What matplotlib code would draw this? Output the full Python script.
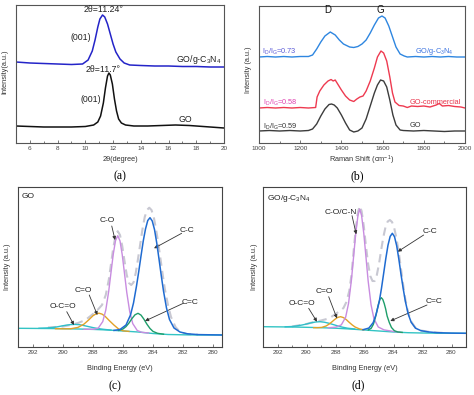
import matplotlib
matplotlib.use("Agg")
import matplotlib.pyplot as plt
from matplotlib.ticker import MultipleLocator

# ---------------- data ----------------
# (a) XRD
xrd_gcn_x = [5, 6, 7, 8, 9, 9.8, 10.2, 10.5, 10.7, 10.9, 11.05, 11.24, 11.4, 11.6, 11.8, 12.0, 12.2, 12.5, 12.8, 13.2, 14, 15, 16, 17, 18, 19, 20]
xrd_gcn_y = [81, 80, 79.5, 79, 78.5, 79, 83, 92, 103, 116, 124, 128, 126, 119, 109, 99, 91, 84, 80, 78, 77.5, 77, 77, 76.5, 76.5, 76, 76]
xrd_go_x = [5, 6, 7, 8, 9, 10, 10.6, 10.9, 11.1, 11.3, 11.45, 11.6, 11.7, 11.8, 11.95, 12.1, 12.25, 12.4, 12.6, 12.9, 13.5, 14.5, 15.5, 16.5, 17.5, 18.5, 19.5, 20]
xrd_go_y = [17, 16.5, 16, 16, 16, 16.5, 18, 21, 27, 40, 55, 67, 70, 68, 59, 44, 32, 24, 20, 18, 17, 17, 17.5, 18, 17.5, 16.5, 15.5, 15]

# (b) Raman
ram_gcn_x = [1000, 1040, 1080, 1120, 1160, 1200, 1240, 1260, 1280, 1300, 1320, 1346, 1370, 1390, 1410, 1440, 1460, 1480, 1500, 1520, 1540, 1560, 1580, 1597, 1612, 1630, 1650, 1665, 1685, 1705, 1720, 1760, 1800, 1840, 1880, 1920, 1960, 2000]
ram_gcn_y = [86, 86.5, 86, 86.5, 86, 86.5, 86.5, 88, 94, 101, 107, 111, 108, 103, 99, 96, 95.5, 96.5, 99, 103, 110, 118, 125, 127, 125, 117, 105, 96, 89, 87, 86, 86.5, 86, 86.5, 86, 86.5, 86, 86]
ram_com_x = [1000, 1040, 1080, 1120, 1160, 1200, 1240, 1275, 1282, 1295, 1315, 1335, 1350, 1360, 1370, 1385, 1400, 1420, 1440, 1460, 1475, 1490, 1505, 1520, 1540, 1560, 1575, 1592, 1605, 1620, 1635, 1648, 1660, 1680, 1700, 1720, 1740, 1770, 1800, 1830, 1860, 1875, 1890, 1920, 1950, 1980, 2000]
ram_com_y = [35, 35.5, 35, 35.5, 35, 35.5, 35, 35.5, 46, 52, 58, 62, 63.5, 62, 63, 58, 53, 47, 43, 41.5, 44, 46, 47, 52, 62, 75, 86, 92, 90, 82, 66, 50, 41, 37.5, 37, 35.5, 37, 36.5, 37, 36, 38, 39.5, 37, 37.5, 36.5, 36, 35]
ram_go_x = [1000, 1050, 1100, 1150, 1200, 1240, 1260, 1280, 1300, 1320, 1340, 1352, 1365, 1380, 1400, 1420, 1440, 1460, 1480, 1500, 1520, 1540, 1560, 1575, 1590, 1605, 1620, 1635, 1650, 1665, 1685, 1700, 1750, 1800, 1850, 1900, 1950, 2000]
ram_go_y = [12, 12.5, 12, 12.5, 12, 12.5, 14, 19, 27, 34, 38.5, 39, 38, 35, 28, 20, 13, 11, 12, 15, 24, 37, 50, 58, 63, 62, 56, 43, 28, 18, 13, 12.5, 12, 12.5, 12, 11.5, 12, 12]

# (c) XPS GO
c_bg_x = [293, 291, 290, 289, 288, 287, 286, 285, 284, 283, 282, 281, 279.4]
c_bg_y = [18.7, 18.5, 18.3, 18, 17.6, 17, 16, 15, 13.5, 12.5, 12.2, 12, 12]
c_oco_x = [291.6, 291.1, 290.7, 290.4, 290.1, 289.8, 289.5, 289.2, 288.9, 288.6, 288.3, 288.0, 287.7, 287.3, 286.8]
c_oco_y = [18.7, 19, 19.5, 20.1, 21, 21.8, 22.4, 22.6, 22.3, 21.4, 20.4, 19.4, 18.5, 17.7, 16.9]
c_ceo_x = [290.5, 290, 289.5, 289, 288.6, 288.3, 288.0, 287.8, 287.6, 287.4, 287.2, 286.9, 286.6, 286.3, 286.0, 285.6]
c_ceo_y = [18.3, 18.2, 18.2, 19.6, 22.9, 26.9, 31.3, 33.1, 33.8, 32.9, 30.8, 26.2, 21.9, 18.1, 16.2, 15.6]
c_co_x = [288.6, 287.95, 287.65, 287.35, 287.15, 286.95, 286.8, 286.65, 286.5, 286.35, 286.2, 286.05, 285.9, 285.75, 285.55, 285.35, 285.05, 284.75, 284.3]
c_co_y = [17.7, 17.7, 18.9, 25.4, 36.8, 56, 74.5, 92.7, 106.4, 111.3, 106.1, 92.1, 73.6, 54.7, 35.1, 23.4, 16.5, 14.7, 14]
c_cc_x = [286.6, 286.2, 285.8, 285.5, 285.3, 285.1, 284.95, 284.8, 284.65, 284.5, 284.35, 284.2, 284.05, 283.9, 283.75, 283.6, 283.45, 283.3, 283.1, 282.9, 282.6, 282.2, 281.7, 281.0, 279.4]
c_cc_y = [16.6, 17.5, 22, 32, 44, 61, 75.5, 91, 106, 118, 126.5, 129.3, 126, 117.5, 104, 88, 71.5, 56, 39, 27.5, 19, 15, 13.2, 12.4, 12]
c_cec_x = [286.3, 286.0, 285.8, 285.6, 285.4, 285.2, 285.0, 284.8, 284.6, 284.4, 284.2, 284.0, 283.7, 283.3]
c_cec_y = [16.6, 18, 20.4, 24, 28.5, 32.2, 33.7, 31.9, 27.7, 22.7, 18.5, 15.6, 13.7, 12.8]
c_env_x = [291, 290, 289.5, 289, 288.5, 288, 287.7, 287.4, 287.15, 286.95, 286.8, 286.65, 286.5, 286.35, 286.2, 286.05, 285.9, 285.75, 285.6, 285.45, 285.3, 285.15, 285.0, 284.85, 284.7, 284.55, 284.4, 284.25, 284.1, 283.95, 283.8, 283.65, 283.5, 283.35, 283.2, 283.0, 282.8, 282.5, 282.2, 281.8, 281.0]
c_env_y = [19.5, 20.5, 22, 24, 27, 33, 37, 42, 52, 67, 83, 99, 111, 115.8, 112, 101, 86, 72, 64, 62, 64.5, 74, 88, 103, 118, 130, 137, 139.3, 137, 130, 118, 104, 88, 72, 57, 42, 30, 20, 15, 13, 12.3]

# (d) XPS GO/g-C3N4
d_bg_x = [293, 291, 290, 289, 288, 287, 286, 285, 284, 283, 282, 281, 279]
d_bg_y = [20.3, 20, 19.7, 19.3, 18.8, 18, 17, 16, 15, 14.3, 14, 13.8, 13.7]
d_oco_x = [291.47, 290.97, 290.57, 290.27, 289.97, 289.67, 289.37, 289.07, 288.77, 288.47, 288.17, 287.87, 287.57, 287.17, 286.67]
d_oco_y = [20.2, 20.5, 21.3, 22.1, 23.1, 24.2, 25, 25.3, 24.8, 23.8, 22.5, 21.2, 20, 18.8, 18]
d_ceo_x = [289.5, 289.25, 288.95, 288.65, 288.45, 288.25, 288.05, 287.85, 287.65, 287.45, 287.25, 287.05, 286.85, 286.65, 286.35, 286.05]
d_ceo_y = [19.3, 19.3, 19.6, 21, 22.8, 25.1, 27.6, 29.6, 30.3, 29.4, 27.3, 24.6, 22.1, 20, 18.1, 17.2]
d_co_x = [288.5, 288.0, 287.6, 287.3, 287.1, 286.9, 286.75, 286.6, 286.45, 286.33, 286.2, 286.05, 285.9, 285.75, 285.55, 285.35, 285.05, 284.65, 284.1, 283.5]
d_co_y = [19.3, 19.8, 22.1, 29.8, 43.6, 67.2, 90.8, 114.1, 131.6, 138, 131.4, 113.7, 90.2, 66.3, 42.4, 28.3, 20, 17.1, 15.8, 14.6]
d_cc_x = [286.1, 285.7, 285.4, 285.2, 284.98, 284.83, 284.68, 284.53, 284.38, 284.23, 284.08, 283.93, 283.78, 283.63, 283.48, 283.33, 283.18, 282.98, 282.78, 282.48, 282.1, 281.6, 281.0, 280.0, 279.0]
d_cc_y = [17.3, 18.9, 24.4, 32.6, 45.6, 58.6, 73.5, 88.5, 101.8, 110.6, 113.7, 110.3, 101.2, 87.7, 72.4, 58.3, 45.5, 32.7, 24.7, 18.8, 16.3, 15.1, 14.3, 13.9, 13.7]
d_cec_x = [285.74, 285.54, 285.39, 285.24, 285.14, 285.04, 284.94, 284.84, 284.74, 284.64, 284.54, 284.44, 284.29, 284.14, 283.94, 283.7, 283.4]
d_cec_y = [17.1, 18.7, 22.6, 30, 36.4, 42.8, 47.6, 49.3, 47.6, 43.5, 38, 31, 24.5, 19.5, 16.3, 15, 14.6]
d_env_x = [291, 290, 289.5, 289, 288.6, 288.3, 288.0, 287.7, 287.45, 287.25, 287.05, 286.9, 286.75, 286.6, 286.45, 286.33, 286.2, 286.05, 285.9, 285.75, 285.6, 285.45, 285.3, 285.15, 285.0, 284.85, 284.7, 284.55, 284.4, 284.25, 284.1, 283.95, 283.8, 283.65, 283.5, 283.35, 283.2, 283.0, 282.8, 282.5, 282.1, 281.5, 280.5]
d_env_y = [20.5, 23, 25, 26.5, 28, 30, 33, 36, 39, 45, 56, 72, 96, 119, 135, 141, 136, 121, 101, 83, 71, 66, 66, 72, 83, 97, 110, 120, 125.5, 127, 125, 119, 109, 96, 80, 64, 49, 35, 26, 19.5, 16.5, 15, 14]

xrd_ticks = [6, 8, 10, 12, 14, 16, 18, 20]
raman_ticks = [1000, 1200, 1400, 1600, 1800, 2000]
xps_ticks = [292, 290, 288, 286, 284, 282, 280]

# ---------------- styling ----------------
plt.rcParams['font.family'] = ['Liberation Sans', 'DejaVu Sans']
plt.rcParams['mathtext.fontset'] = 'custom'
plt.rcParams['mathtext.rm'] = 'Liberation Sans'
plt.rcParams['mathtext.it'] = 'Liberation Sans'

W, H = 474, 395
fig = plt.figure(figsize=(W / 100, H / 100), dpi=100)


def axrect(x0, y0, x1, y1):
    return [x0 / W, 1 - y1 / H, (x1 - x0) / W, (y1 - y0) / H]


def ftext(px, py, s, **kw):
    fig.text(px / W, 1 - py / H, s, **kw)


def style(ax, ticks, minor, frame='#555555'):
    ax.set_xticks(ticks)
    ax.xaxis.set_minor_locator(MultipleLocator(minor))
    ax.set_yticks([])
    ax.tick_params(axis='x', which='both', direction='in', labelsize=4.6,
                   colors='#444444', pad=2)
    ax.tick_params(axis='x', which='major', length=2.5, width=0.5)
    ax.tick_params(axis='x', which='minor', length=1.5, width=0.5)
    for s in ax.spines.values():
        s.set_color(frame)
        s.set_linewidth(0.8)


serif = dict(family=['Liberation Serif', 'DejaVu Serif'], fontsize=8.5, ha='center', va='center')
lab = dict(fontsize=5.3, ha='center', va='center', color='#333333')

# ---- (a) ----
axa = fig.add_axes(axrect(16, 5, 224, 143))
axa.plot(xrd_gcn_x, xrd_gcn_y, color='#2424c8', lw=1.1)
axa.plot(xrd_go_x, xrd_go_y, color='#111111', lw=1.1)
axa.set_xlim(5, 20)
axa.set_ylim(0, 138)
style(axa, xrd_ticks, 1)
tk = dict(fontsize=6.3, ha='center', va='center', color='#222222')
axa.text(11.28, 133, '2θ=11.24°', **tk)
axa.text(9.69, 106, '(001)', **tk)
axa.text(18.2, 83, 'GO/g-C$_3$N$_4$', **tk)
axa.text(11.28, 73, '2θ=11.7°', **tk)
axa.text(10.4, 44, '(001)', **tk)
axa.text(17.2, 24, 'GO', **tk)
ftext(5, 72, 'Intensity(a.u.)', rotation=90, **lab)
ftext(120, 160, '2θ(degree)', **lab)
ftext(120, 176, '(a)', **serif)

# ---- (b) ----
axb = fig.add_axes(axrect(259, 6, 465, 143))
axb.plot(ram_gcn_x, ram_gcn_y, color='#2e86e0', lw=1.0)
axb.plot(ram_com_x, ram_com_y, color='#ee3a50', lw=1.0)
axb.plot(ram_go_x, ram_go_y, color='#3c3c3c', lw=1.0)
axb.set_xlim(1000, 2000)
axb.set_ylim(0, 137)
style(axb, raman_ticks, 100)
rk = dict(fontsize=5.3, va='center')
axb.text(1015, 91, r'I$_\mathregular{D}$/I$_\mathregular{G}$=0.73', color='#5a5ad8', ha='left', **rk)
axb.text(1850, 91, r'GO/g-C$_3$N$_4$', color='#3a72e0', ha='center', **rk)
axb.text(1019, 40, r'I$_\mathregular{D}$/I$_\mathregular{G}$=0.58', color='#e040b0', ha='left', **rk)
axb.text(1854, 40, 'GO-commercial', color='#e8334a', ha='center', **rk)
axb.text(1019, 16, r'I$_\mathregular{D}$/I$_\mathregular{G}$=0.59', color='#333333', ha='left', **rk)
axb.text(1757, 17, 'GO', color='#333333', ha='center', **rk)
axb.text(1335, 133, 'D', fontsize=7, ha='center', va='center', color='#111111')
axb.text(1587, 133, 'G', fontsize=7, ha='center', va='center', color='#111111')
ftext(249, 70, 'Intensity (a.u.)', rotation=90, **lab)
ftext(362, 160, 'Raman Shift (cm$^{-1}$)', **lab)
ftext(357, 176, '(b)', **serif)

# ---- XPS panels ----
cols = dict(bg='#33c4c4', oco='#2fbfc9', ceo='#e2a228', co='#c88ce0', cc='#1f6bd1', cec='#1e9e6a', env='#c8c8d2')
ak = dict(fontsize=6, ha='center', va='center', color='#222222')
arr = dict(arrowstyle='-|>', color='#333333', lw=0.6, mutation_scale=5, shrinkA=0, shrinkB=0)


def xps(ax, bgx, bgy, ocox, ocoy, ceox, ceoy, cox, coy, ccx, ccy, cecx, cecy, envx, envy):
    ax.plot(envx, envy, color=cols['env'], lw=1.5, ls=(0, (4, 2.5)), zorder=1)
    ax.plot(bgx, bgy, color=cols['bg'], lw=1.0, zorder=2)
    ax.plot(ocox, ocoy, color=cols['oco'], lw=1.0, zorder=3)
    ax.plot(ceox, ceoy, color=cols['ceo'], lw=1.0, zorder=3)
    ax.plot(cox, coy, color=cols['co'], lw=1.0, zorder=3)
    ax.plot(cecx, cecy, color=cols['cec'], lw=1.0, zorder=3)
    ax.plot(ccx, ccy, color=cols['cc'], lw=1.1, zorder=4)


axc = fig.add_axes(axrect(18, 187, 222, 347))
xps(axc, c_bg_x, c_bg_y, c_oco_x, c_oco_y, c_ceo_x, c_ceo_y, c_co_x, c_co_y,
    c_cc_x, c_cc_y, c_cec_x, c_cec_y, c_env_x, c_env_y)
axc.set_xlim(293, 279.4)
axc.set_ylim(0, 160)
style(axc, xps_ticks, 1, frame='#444444')
axc.text(0.02, 0.965, 'GO', transform=axc.transAxes, fontsize=6, ha='left', va='top', color='#222222')
axc.text(287.07, 127, 'C-O', **ak)
axc.annotate('', xy=(286.53, 107), xytext=(286.75, 121), arrowprops=arr)
axc.text(281.73, 117, 'C-C', **ak)
axc.annotate('', xy=(283.93, 98.7), xytext=(282.09, 113.7), arrowprops=arr)
axc.text(288.67, 57, 'C=O', **ak)
axc.annotate('', xy=(287.71, 32), xytext=(288.25, 52), arrowprops=arr)
axc.text(290.0, 40, 'O-C=O', **ak)
axc.annotate('', xy=(289.27, 22), xytext=(289.75, 35.3), arrowprops=arr)
axc.text(281.53, 45, 'C=C', **ak)
axc.annotate('', xy=(284.53, 26), xytext=(281.98, 43.7), arrowprops=arr)
ftext(8, 267, 'Intensity (a.u.)', rotation=90, **lab)
ftext(120, 369, 'Binding Energy (eV)', **lab)
ftext(115, 386, '(c)', **serif)

axd = fig.add_axes(axrect(263, 187, 466, 347))
xps(axd, d_bg_x, d_bg_y, d_oco_x, d_oco_y, d_ceo_x, d_ceo_y, d_co_x, d_co_y,
    d_cc_x, d_cc_y, d_cec_x, d_cec_y, d_env_x, d_env_y)
axd.set_xlim(293, 279)
axd.set_ylim(0, 160)
style(axd, xps_ticks, 1, frame='#444444')
axd.text(0.02, 0.965, 'GO/g-C$_3$N$_4$', transform=axd.transAxes, fontsize=6, ha='left', va='top', color='#222222')
axd.text(287.67, 134.7, 'C-O/C-N', **ak)
axd.annotate('', xy=(286.57, 112.7), xytext=(286.86, 131.3), arrowprops=arr)
axd.text(281.5, 115.3, 'C-C', **ak)
axd.annotate('', xy=(283.71, 95.3), xytext=(281.92, 112), arrowprops=arr)
axd.text(288.77, 55.3, 'C=O', **ak)
axd.annotate('', xy=(287.9, 28.7), xytext=(288.47, 50.3), arrowprops=arr)
axd.text(290.31, 43.7, 'O-C=O', **ak)
axd.annotate('', xy=(289.28, 25.3), xytext=(289.85, 38.7), arrowprops=arr)
axd.text(281.23, 45.3, 'C=C', **ak)
axd.annotate('', xy=(284.22, 26), xytext=(281.69, 42), arrowprops=arr)
ftext(254, 267, 'Intensity (a.u.)', rotation=90, **lab)
ftext(365, 368, 'Binding Energy (eV)', **lab)
ftext(358, 385, '(d)', **serif)

fig.savefig('out.png', dpi=100)
